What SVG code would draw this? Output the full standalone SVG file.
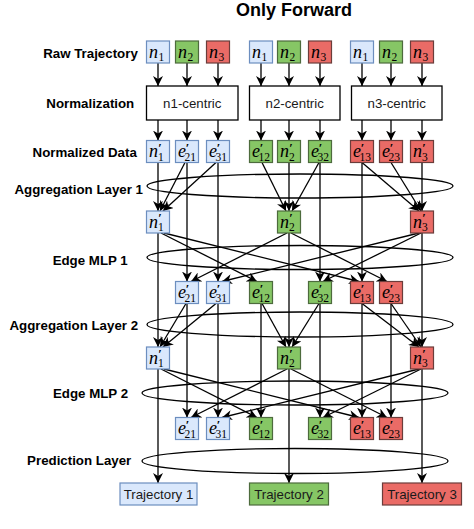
<svg xmlns="http://www.w3.org/2000/svg" width="474" height="529" viewBox="0 0 474 529">
<defs>
<style>
.lbl{font-family:"Liberation Sans",Arial,sans-serif;font-weight:bold;font-size:13.3px;text-anchor:middle;fill:#000}
.ttl{font-family:"Liberation Sans",Arial,sans-serif;font-weight:bold;font-size:18px;text-anchor:middle;fill:#000}
.txt{font-family:"Liberation Sans",Arial,sans-serif;font-size:13.3px;text-anchor:middle;fill:#1a1a1a}
.m{font-family:"Liberation Serif","DejaVu Serif",serif;fill:#000}
.mi{font-style:italic;font-size:18px}
.pr{font-size:13px;font-style:italic;font-weight:bold}
.sb{font-size:11.5px}
.b{fill:#dae8fc;stroke:#6c8ebf;stroke-width:1.2}
.g{fill:#86c665;stroke:#4d6b3d;stroke-width:1.2}
.r{fill:#ea6b66;stroke:#6b3d3b;stroke-width:1.2}
.w{fill:#fff;stroke:#000;stroke-width:1.3}
.c line{stroke:#000;stroke-width:1.3;marker-end:url(#ah)}
.el{fill:none;stroke:#000;stroke-width:1.3}
</style>
<marker id="ah" markerUnits="userSpaceOnUse" markerWidth="10" markerHeight="10" refX="10" refY="5" orient="auto"><path d="M0,0 L10,5 L0,10 L3,5 z" fill="#000"/></marker>
</defs>
<rect width="474" height="529" fill="#fff"/>
<text class="ttl" x="294" y="16">Only Forward</text>
<g id="labels">
<text class="lbl" x="90.5" y="58">Raw Trajectory</text>
<text class="lbl" x="90.3" y="108">Normalization</text>
<text class="lbl" x="84.7" y="157">Normalized Data</text>
<text class="lbl" x="78.7" y="194">Aggregation Layer 1</text>
<text class="lbl" x="90.2" y="265">Edge MLP 1</text>
<text class="lbl" x="73.8" y="330">Aggregation Layer 2</text>
<text class="lbl" x="90.5" y="398">Edge MLP 2</text>
<text class="lbl" x="79.2" y="465">Prediction Layer</text>
</g>
<g id="layers">
<ellipse class="el" cx="300" cy="186" rx="153" ry="12"/>
<ellipse class="el" cx="300" cy="257.5" rx="153" ry="12"/>
<ellipse class="el" cx="300" cy="324.5" rx="153" ry="12.5"/>
<ellipse class="el" cx="295" cy="393" rx="153" ry="12"/>
<ellipse class="el" cx="295" cy="461" rx="153" ry="12.5"/>
</g>
<g id="connectors" class="c">
<line x1="158" y1="63" x2="158" y2="86"/><line x1="187" y1="63" x2="187" y2="86"/><line x1="218" y1="63" x2="218" y2="86"/>
<line x1="261" y1="63" x2="261" y2="86"/><line x1="289" y1="63" x2="289" y2="86"/><line x1="320" y1="63" x2="320" y2="86"/>
<line x1="362" y1="63" x2="362" y2="86"/><line x1="391" y1="63" x2="391" y2="86"/><line x1="422" y1="63" x2="422" y2="86"/>
<line x1="158" y1="120" x2="158" y2="140.5"/><line x1="187" y1="120" x2="187" y2="140.5"/><line x1="218" y1="120" x2="218" y2="140.5"/>
<line x1="261" y1="120" x2="261" y2="140.5"/><line x1="289" y1="120" x2="289" y2="140.5"/><line x1="320" y1="120" x2="320" y2="140.5"/>
<line x1="362" y1="120" x2="362" y2="140.5"/><line x1="391" y1="120" x2="391" y2="140.5"/><line x1="422" y1="120" x2="422" y2="140.5"/>
<line x1="158" y1="162.5" x2="158" y2="211"/><line x1="289" y1="162.5" x2="289" y2="211"/><line x1="422" y1="162.5" x2="422" y2="211"/>
<line x1="185" y1="162.5" x2="160" y2="211"/><line x1="216" y1="162.5" x2="163" y2="211"/>
<line x1="262" y1="162.5" x2="286" y2="211"/><line x1="319" y1="162.5" x2="292" y2="211"/>
<line x1="362" y1="162.5" x2="419" y2="211"/><line x1="391" y1="162.5" x2="421" y2="211"/>
<line x1="187" y1="162.5" x2="187" y2="281.5"/><line x1="218" y1="162.5" x2="218" y2="281.5"/>
<line x1="320" y1="162.5" x2="320" y2="281.5"/><line x1="362" y1="162.5" x2="362" y2="281.5"/>
<line x1="158" y1="233" x2="158" y2="347"/><line x1="289" y1="233" x2="289" y2="347"/><line x1="422" y1="233" x2="422" y2="347"/>
<line x1="161" y1="233" x2="257" y2="281.5"/><line x1="164" y1="233" x2="359" y2="281.5"/>
<line x1="287" y1="233" x2="191" y2="281.5"/><line x1="291" y1="233" x2="387" y2="281.5"/>
<line x1="419" y1="233" x2="222" y2="281.5"/><line x1="421" y1="233" x2="323" y2="281.5"/>
<line x1="186" y1="303.5" x2="160" y2="347"/><line x1="216" y1="303.5" x2="163" y2="347"/>
<line x1="262" y1="303.5" x2="286" y2="347"/><line x1="319" y1="303.5" x2="292" y2="347"/>
<line x1="362" y1="303.5" x2="419" y2="347"/><line x1="391" y1="303.5" x2="421" y2="347"/>
<line x1="187" y1="303.5" x2="187" y2="417.5"/><line x1="218" y1="303.5" x2="218" y2="417.5"/><line x1="261" y1="303.5" x2="261" y2="417.5"/>
<line x1="320" y1="303.5" x2="320" y2="417.5"/><line x1="362" y1="303.5" x2="362" y2="417.5"/><line x1="391" y1="303.5" x2="391" y2="417.5"/>
<line x1="161" y1="369" x2="257" y2="417.5"/><line x1="164" y1="369" x2="359" y2="417.5"/>
<line x1="287" y1="369" x2="191" y2="417.5"/><line x1="291" y1="369" x2="387" y2="417.5"/>
<line x1="419" y1="369" x2="222" y2="417.5"/><line x1="421" y1="369" x2="323" y2="417.5"/>
<line x1="158" y1="369" x2="158" y2="483"/><line x1="289" y1="369" x2="289" y2="483"/><line x1="422" y1="369" x2="422" y2="483"/>
</g>
<g id="raw-1">
<rect class="b" x="146.5" y="41" width="23" height="22"/><text class="m"><tspan class="mi" x="149" y="57.5">n</tspan><tspan class="sb" x="158.5" y="61">1</tspan></text>
<rect class="g" x="175.5" y="41" width="23" height="22"/><text class="m"><tspan class="mi" x="178" y="57.5">n</tspan><tspan class="sb" x="187.5" y="61">2</tspan></text>
<rect class="r" x="206.5" y="41" width="23" height="22"/><text class="m"><tspan class="mi" x="209" y="57.5">n</tspan><tspan class="sb" x="218.5" y="61">3</tspan></text>
</g>
<g id="raw-2">
<rect class="b" x="249.5" y="41" width="23" height="22"/><text class="m"><tspan class="mi" x="252" y="57.5">n</tspan><tspan class="sb" x="261.5" y="61">1</tspan></text>
<rect class="g" x="277.5" y="41" width="23" height="22"/><text class="m"><tspan class="mi" x="280" y="57.5">n</tspan><tspan class="sb" x="289.5" y="61">2</tspan></text>
<rect class="r" x="308.5" y="41" width="23" height="22"/><text class="m"><tspan class="mi" x="311" y="57.5">n</tspan><tspan class="sb" x="320.5" y="61">3</tspan></text>
</g>
<g id="raw-3">
<rect class="b" x="350.5" y="41" width="23" height="22"/><text class="m"><tspan class="mi" x="353" y="57.5">n</tspan><tspan class="sb" x="362.5" y="61">1</tspan></text>
<rect class="g" x="379.5" y="41" width="23" height="22"/><text class="m"><tspan class="mi" x="382" y="57.5">n</tspan><tspan class="sb" x="391.5" y="61">2</tspan></text>
<rect class="r" x="410.5" y="41" width="23" height="22"/><text class="m"><tspan class="mi" x="413" y="57.5">n</tspan><tspan class="sb" x="422.5" y="61">3</tspan></text>
</g>
<g id="norm-n1"><rect class="w" x="146.5" y="86" width="91.5" height="34"/><text class="txt" x="192.3" y="108">n1-centric</text></g>
<g id="norm-n2"><rect class="w" x="249.5" y="86" width="90.5" height="34"/><text class="txt" x="294.7" y="108">n2-centric</text></g>
<g id="norm-n3"><rect class="w" x="351.5" y="86" width="90.5" height="34"/><text class="txt" x="396.7" y="108">n3-centric</text></g>
<g id="data">
<rect class="b" x="146.5" y="140.5" width="23" height="22"/><text class="m"><tspan class="mi" x="149" y="157">n</tspan><tspan class="pr" x="158" y="151.5">′</tspan><tspan class="sb" x="158" y="160.5">1</tspan></text>
<rect class="b" x="175.5" y="140.5" width="23" height="22"/><text class="m"><tspan class="mi" x="178" y="157">e</tspan><tspan class="pr" x="185.5" y="151.5">′</tspan><tspan class="sb" x="184.5" y="160.5">21</tspan></text>
<rect class="b" x="206.5" y="140.5" width="23" height="22"/><text class="m"><tspan class="mi" x="209" y="157">e</tspan><tspan class="pr" x="216.5" y="151.5">′</tspan><tspan class="sb" x="215.5" y="160.5">31</tspan></text>
<rect class="g" x="249.5" y="140.5" width="23" height="22"/><text class="m"><tspan class="mi" x="252" y="157">e</tspan><tspan class="pr" x="259.5" y="151.5">′</tspan><tspan class="sb" x="258.5" y="160.5">12</tspan></text>
<rect class="g" x="277.5" y="140.5" width="23" height="22"/><text class="m"><tspan class="mi" x="280" y="157">n</tspan><tspan class="pr" x="289" y="151.5">′</tspan><tspan class="sb" x="289" y="160.5">2</tspan></text>
<rect class="g" x="308.5" y="140.5" width="23" height="22"/><text class="m"><tspan class="mi" x="311" y="157">e</tspan><tspan class="pr" x="318.5" y="151.5">′</tspan><tspan class="sb" x="317.5" y="160.5">32</tspan></text>
<rect class="r" x="350.5" y="140.5" width="23" height="22"/><text class="m"><tspan class="mi" x="353" y="157">e</tspan><tspan class="pr" x="360.5" y="151.5">′</tspan><tspan class="sb" x="359.5" y="160.5">13</tspan></text>
<rect class="r" x="379.5" y="140.5" width="23" height="22"/><text class="m"><tspan class="mi" x="382" y="157">e</tspan><tspan class="pr" x="389.5" y="151.5">′</tspan><tspan class="sb" x="388.5" y="160.5">23</tspan></text>
<rect class="r" x="410.5" y="140.5" width="23" height="22"/><text class="m"><tspan class="mi" x="413" y="157">n</tspan><tspan class="pr" x="422" y="151.5">′</tspan><tspan class="sb" x="422" y="160.5">3</tspan></text>
</g>
<g id="agg1">
<rect class="b" x="146.5" y="211" width="23" height="22"/><text class="m"><tspan class="mi" x="149" y="227.5">n</tspan><tspan class="pr" x="158" y="222">′</tspan><tspan class="sb" x="158" y="231">1</tspan></text>
<rect class="g" x="277.5" y="211" width="23" height="22"/><text class="m"><tspan class="mi" x="280" y="227.5">n</tspan><tspan class="pr" x="289" y="222">′</tspan><tspan class="sb" x="289" y="231">2</tspan></text>
<rect class="r" x="410.5" y="211" width="23" height="22"/><text class="m"><tspan class="mi" x="413" y="227.5">n</tspan><tspan class="pr" x="422" y="222">′</tspan><tspan class="sb" x="422" y="231">3</tspan></text>
</g>
<g id="edge1">
<rect class="b" x="175.5" y="281.5" width="23" height="22"/><text class="m"><tspan class="mi" x="178" y="298">e</tspan><tspan class="pr" x="185.5" y="292.5">′</tspan><tspan class="sb" x="184.5" y="301.5">21</tspan></text>
<rect class="b" x="206.5" y="281.5" width="23" height="22"/><text class="m"><tspan class="mi" x="209" y="298">e</tspan><tspan class="pr" x="216.5" y="292.5">′</tspan><tspan class="sb" x="215.5" y="301.5">31</tspan></text>
<rect class="g" x="249.5" y="281.5" width="23" height="22"/><text class="m"><tspan class="mi" x="252" y="298">e</tspan><tspan class="pr" x="259.5" y="292.5">′</tspan><tspan class="sb" x="258.5" y="301.5">12</tspan></text>
<rect class="g" x="308.5" y="281.5" width="23" height="22"/><text class="m"><tspan class="mi" x="311" y="298">e</tspan><tspan class="pr" x="318.5" y="292.5">′</tspan><tspan class="sb" x="317.5" y="301.5">32</tspan></text>
<rect class="r" x="350.5" y="281.5" width="23" height="22"/><text class="m"><tspan class="mi" x="353" y="298">e</tspan><tspan class="pr" x="360.5" y="292.5">′</tspan><tspan class="sb" x="359.5" y="301.5">13</tspan></text>
<rect class="r" x="379.5" y="281.5" width="23" height="22"/><text class="m"><tspan class="mi" x="382" y="298">e</tspan><tspan class="pr" x="389.5" y="292.5">′</tspan><tspan class="sb" x="388.5" y="301.5">23</tspan></text>
</g>
<g id="agg2">
<rect class="b" x="146.5" y="347" width="23" height="22"/><text class="m"><tspan class="mi" x="149" y="363.5">n</tspan><tspan class="pr" x="158" y="358">′</tspan><tspan class="sb" x="158" y="367">1</tspan></text>
<rect class="g" x="277.5" y="347" width="23" height="22"/><text class="m"><tspan class="mi" x="280" y="363.5">n</tspan><tspan class="pr" x="289" y="358">′</tspan><tspan class="sb" x="289" y="367">2</tspan></text>
<rect class="r" x="410.5" y="347" width="23" height="22"/><text class="m"><tspan class="mi" x="413" y="363.5">n</tspan><tspan class="pr" x="422" y="358">′</tspan><tspan class="sb" x="422" y="367">3</tspan></text>
</g>
<g id="edge2">
<rect class="b" x="175.5" y="417.5" width="23" height="22"/><text class="m"><tspan class="mi" x="178" y="434">e</tspan><tspan class="pr" x="185.5" y="428.5">′</tspan><tspan class="sb" x="184.5" y="437.5">21</tspan></text>
<rect class="b" x="206.5" y="417.5" width="23" height="22"/><text class="m"><tspan class="mi" x="209" y="434">e</tspan><tspan class="pr" x="216.5" y="428.5">′</tspan><tspan class="sb" x="215.5" y="437.5">31</tspan></text>
<rect class="g" x="249.5" y="417.5" width="23" height="22"/><text class="m"><tspan class="mi" x="252" y="434">e</tspan><tspan class="pr" x="259.5" y="428.5">′</tspan><tspan class="sb" x="258.5" y="437.5">12</tspan></text>
<rect class="g" x="308.5" y="417.5" width="23" height="22"/><text class="m"><tspan class="mi" x="311" y="434">e</tspan><tspan class="pr" x="318.5" y="428.5">′</tspan><tspan class="sb" x="317.5" y="437.5">32</tspan></text>
<rect class="r" x="350.5" y="417.5" width="23" height="22"/><text class="m"><tspan class="mi" x="353" y="434">e</tspan><tspan class="pr" x="360.5" y="428.5">′</tspan><tspan class="sb" x="359.5" y="437.5">13</tspan></text>
<rect class="r" x="379.5" y="417.5" width="23" height="22"/><text class="m"><tspan class="mi" x="382" y="434">e</tspan><tspan class="pr" x="389.5" y="428.5">′</tspan><tspan class="sb" x="388.5" y="437.5">23</tspan></text>
</g>
<g id="traj-1"><rect class="b" x="120" y="483" width="77" height="22"/><text class="txt" x="158.5" y="499">Trajectory 1</text></g>
<g id="traj-2"><rect class="g" x="249.5" y="483" width="79" height="22"/><text class="txt" x="289" y="499">Trajectory 2</text></g>
<g id="traj-3"><rect class="r" x="382.5" y="483" width="79" height="22"/><text class="txt" x="422" y="499">Trajectory 3</text></g>
</svg>
